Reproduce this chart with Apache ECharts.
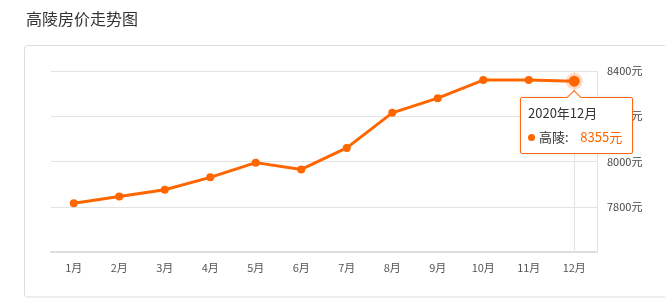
<!DOCTYPE html>
<html>
<head>
<meta charset="utf-8">
<script src="https://cdn.jsdelivr.net/npm/echarts@6/dist/echarts.min.js"></script>
<style>
html,body{margin:0;padding:0;background:#fff;}
#chart{width:665px;height:305px;}
</style>
</head>
<body>
<div id="chart"></div>
<script>
var titleText = '高陵房价走势图';
var seriesName = '高陵';
var months = ['1月','2月','3月','4月','5月','6月','7月','8月','9月','10月','11月','12月'];
var prices = [7815, 7845, 7875, 7930, 7995, 7965, 8060, 8215, 8280, 8360, 8360, 8355];
var tipTitle = '2020年12月';
var activeIndex = 11;

var FONT = '"Noto Sans CJK SC", "Noto Sans", sans-serif';
var chart = echarts.init(document.getElementById('chart'), null, {renderer: 'canvas'});

chart.setOption({
  animation: false,
  textStyle: {fontFamily: FONT},
  title: {
    text: titleText, left: 21, top: 6,
    textStyle: {fontSize: 16, fontWeight: 'normal', color: '#333', fontFamily: FONT}
  },
  graphic: [{
    type: 'rect', silent: true, z: -1,
    shape: {x: 24.5, y: 45.5, width: 660, height: 251.5, r: 3},
    style: {fill: '#fff', stroke: '#dcdcdc', lineWidth: 1}
  }],
  grid: {left: 51, right: 68, top: 71, bottom: 53},
  tooltip: {
    trigger: 'axis',
    triggerOn: 'none',
    alwaysShowContent: true,
    backgroundColor: '#fff',
    borderColor: '#ff6a10',
    borderWidth: 1,
    borderRadius: 2,
    padding: [5, 10, 6, 7],
    extraCssText: 'box-shadow:0 0 3px rgba(0,0,0,0.12);overflow:visible;',
    textStyle: {fontFamily: FONT, fontSize: 13, color: '#333'},
    axisPointer: {type: 'line', z: 1, lineStyle: {color: '#e3e3e3', width: 1, type: 'solid'}},
    position: function (point, params, dom, rect, size) {
      return [point[0] - size.contentSize[0] / 2 + 2, 97];
    },
    formatter: function (params) {
      var p = params[0];
      return '<div style="position:relative;">' +
        '<div style="position:absolute;left:50%;top:-11px;margin-left:-6px;width:9px;height:9px;background:#fff;border-left:1px solid #ff6a10;border-top:1px solid #ff6a10;transform:rotate(45deg);"></div>' +
        '<div style="line-height:20px;margin-bottom:4px;">' + tipTitle + '</div>' +
        '<div style="line-height:20px;"><span style="display:inline-block;width:7px;height:7px;border-radius:50%;background:#ff6600;margin-right:4px;vertical-align:1px;"></span>' +
        p.seriesName + ':&nbsp;&nbsp;&nbsp;&nbsp;<span style="color:#ff6600;">' + p.value + '元</span></div></div>';
    }
  },
  xAxis: {
    type: 'category',
    data: months,
    boundaryGap: true,
    axisLine: {lineStyle: {color: '#dedede', width: 2}},
    axisTick: {alignWithLabel: true, length: 3, lineStyle: {color: '#dedede'}},
    axisLabel: {color: '#555', fontSize: 11, margin: 10, fontFamily: FONT},
    splitLine: {show: false}
  },
  yAxis: {
    type: 'value',
    position: 'right',
    min: 7600, max: 8400, interval: 200,
    axisLine: {show: true, lineStyle: {color: '#e3e3e3', width: 1}},
    axisTick: {show: false},
    axisLabel: {
      color: '#444', fontSize: 11, margin: 10, fontFamily: FONT,
      formatter: function (v) { return v === 7600 ? '' : v + '元'; }
    },
    splitLine: {lineStyle: {color: '#e3e3e3', width: 1}}
  },
  series: [{
    name: seriesName,
    type: 'line',
    z: 60,
    data: prices,
    symbol: 'circle',
    symbolSize: 8,
    lineStyle: {color: '#ff6600', width: 3},
    itemStyle: {color: '#ff6600'},
    emphasis: {disabled: true},
    markPoint: {
      silent: true,
      z: 61,
      label: {show: false},
      data: [
        {coord: [activeIndex, prices[activeIndex]], symbol: 'circle', symbolSize: 17, itemStyle: {color: 'rgba(255,102,0,0.22)'}},
        {coord: [activeIndex, prices[activeIndex]], symbol: 'circle', symbolSize: 11, itemStyle: {color: '#ff6600'}}
      ]
    }
  }]
});

chart.dispatchAction({type: 'showTip', seriesIndex: 0, dataIndex: activeIndex});
</script>
</body>
</html>
